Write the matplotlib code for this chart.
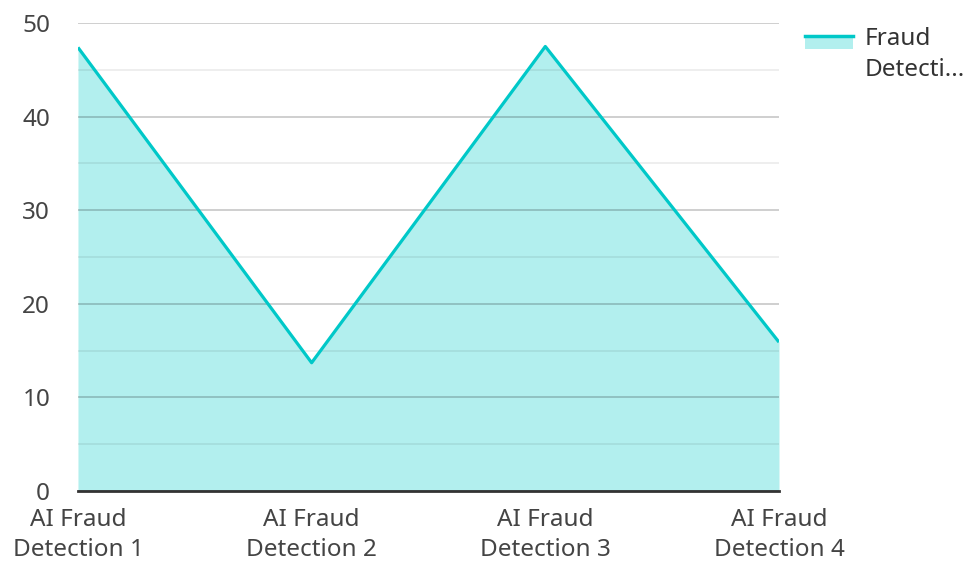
import matplotlib
matplotlib.use("Agg")
import matplotlib.pyplot as plt
from matplotlib.legend_handler import HandlerBase
from matplotlib.patches import Rectangle
from matplotlib.lines import Line2D

plt.rcParams['font.family'] = ['Noto Sans', 'DejaVu Sans']

# data
categories = ["AI Fraud\nDetection 1", "AI Fraud\nDetection 2",
              "AI Fraud\nDetection 3", "AI Fraud\nDetection 4"]
values = [47.4, 13.7, 47.5, 15.9]
series_name = "Fraud\nDetecti..."

line_color = "#00c8c8"
fill_color = "#b2efee"
text_color = "#444444"


class AreaHandler(HandlerBase):
    # fill rectangle with the line along its top edge
    def create_artists(self, legend, orig_handle, xdescent, ydescent,
                       width, height, fontsize, trans):
        top = height * 1.6
        bot = height * 0.85
        rect = Rectangle((-xdescent, -ydescent + bot), width, top - bot,
                         facecolor=fill_color, edgecolor="none", transform=trans)
        ln = Line2D([-xdescent, -xdescent + width], [top, top],
                    color=line_color, lw=2.5, transform=trans)
        return [rect, ln]


fig = plt.figure(figsize=(9.66, 5.63), dpi=100)
ax = fig.add_axes([0.0807, 0.128, 0.7257, 0.831])

x = list(range(len(categories)))
ax.fill_between(x, values, 0, color=fill_color, lw=0, zorder=1)
ax.plot(x, values, color=line_color, lw=2.3, zorder=3, solid_capstyle="butt")

ax.set_xlim(0, len(categories) - 1)
ax.set_ylim(0, 50)
ax.set_yticks(range(0, 51, 10))
ax.set_yticks(range(5, 50, 10), minor=True)
ax.set_xticks(x)
ax.set_xticklabels(categories)

ax.grid(axis="y", which="major", color="black", alpha=0.22, lw=1.2, zorder=2)
ax.grid(axis="y", which="minor", color="black", alpha=0.08, lw=1.2, zorder=2)
ax.set_axisbelow(False)

for s in ["top", "right", "left"]:
    ax.spines[s].set_visible(False)
ax.spines["bottom"].set_color("#333333")
ax.spines["bottom"].set_linewidth(2)
ax.spines["bottom"].set_zorder(4)

ax.tick_params(axis="both", which="both", length=0, labelsize=17.5, labelcolor=text_color)
ax.tick_params(axis="y", pad=20)
ax.tick_params(axis="x", pad=12)
for lab in ax.get_yticklabels():
    lab.set_horizontalalignment("right")
for lab in ax.get_xticklabels():
    lab.set_linespacing(1.38)

handle = Rectangle((0, 0), 1, 1)
leg = fig.legend([handle], [series_name], handler_map={Rectangle: AreaHandler()},
                 loc="upper left", bbox_to_anchor=(0.833, 0.952), frameon=False,
                 fontsize=17.5, handlelength=2.0, handletextpad=0.45,
                 borderpad=0, borderaxespad=0)
for t in leg.get_texts():
    t.set_color("#333333")
    t.set_linespacing(1.4)

fig.savefig("out.png", dpi=100)
